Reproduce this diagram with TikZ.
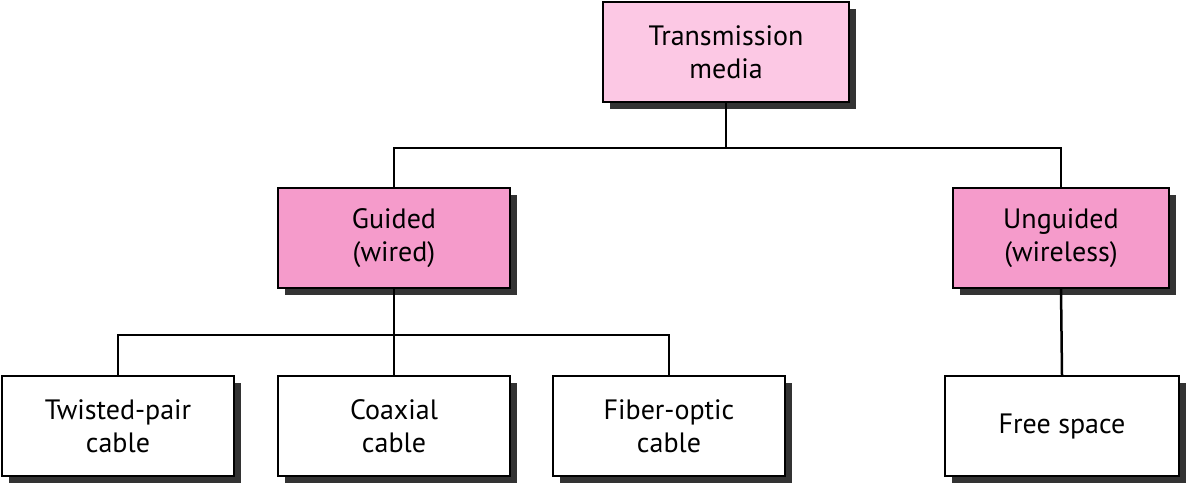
\documentclass[tikz,border=0pt]{standalone}
\usepackage{fontspec}
\setmainfont{PT Sans}
\definecolor{lpink}{HTML}{FCC8E4}
\definecolor{mpink}{HTML}{F59BCB}
\begin{document}
\begin{tikzpicture}[x=1pt,y=-1pt,
  box/.style={draw=black,line width=2pt,align=center,font=\fontsize{28}{33}\selectfont,
    inner sep=0pt,minimum height=100pt}]
\useasboundingbox (0,0) rectangle (1195,485);
\newcommand\myshbox[5]{% name, cx, cy, w, fill
  \fill[black!80] (#2-#4/2+7,#3-50+7) rectangle (#2+#4/2+7,#3+50+7);
  \node[box,fill=#5,minimum width=#4pt] (#1) at (#2,#3) {};}
\myshbox{tm}{726}{52}{246}{lpink}
\myshbox{gd}{394}{238}{232}{mpink}
\myshbox{ug}{1061}{238}{216}{mpink}
\myshbox{tp}{118}{426}{232}{white}
\myshbox{cx}{394}{426}{232}{white}
\myshbox{fo}{669}{426}{232}{white}
\myshbox{fs}{1062}{426}{234}{white}
\node[box,draw=none] at (tm) {Transmission\\media};
\node[box,draw=none] at (gd) {Guided\\(wired)};
\node[box,draw=none] at (ug) {Unguided\\(wireless)};
\node[box,draw=none] at (tp) {Twisted-pair\\cable};
\node[box,draw=none] at (cx) {Coaxial\\cable};
\node[box,draw=none] at (fo) {Fiber-optic\\cable};
\node[box,draw=none] at (fs) {Free space};
\draw[line width=2.5pt] (tm.south) -- (726,148) coordinate (c1);
\draw[line width=2.5pt] (gd.north) |- (c1) -| (ug.north);
\draw[line width=2.5pt] (gd.south) -- (394,335) coordinate (c2) -- (cx.north);
\draw[line width=2.5pt] (tp.north) |- (c2) -| (fo.north);
\draw[line width=2.5pt] (ug.south) -- (fs.north);
\end{tikzpicture}
\end{document}
